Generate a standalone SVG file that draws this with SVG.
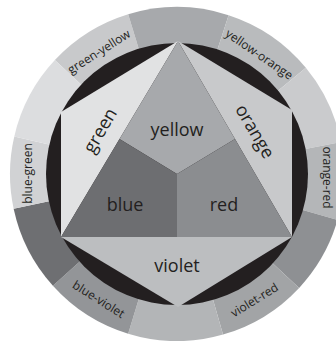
<svg xmlns="http://www.w3.org/2000/svg" width="336" height="341" viewBox="0 0 336 341">
<style>
.big{font-family:"Open Sans","Liberation Sans",sans-serif;font-size:18px;fill:#231f20;text-anchor:middle}
.sm{font-family:"Open Sans","Liberation Sans",sans-serif;font-size:12px;fill:#231f20;text-anchor:middle}
</style>
<rect width="336" height="341" fill="#ffffff"/>
<g id="ring">
<g id="seg-green-yellow"><path d="M177,174 L54.86,60.11 A167,167 0 0 1 128.17,14.30 Z" fill="#c8c9cb"/><text class="sm" transform="translate(99.1,51.7) rotate(-32.5)" dy="4">green-yellow</text></g>
<g id="seg-yellow"><path d="M177,174 L128.17,14.30 A167,167 0 0 1 228.61,15.17 Z" fill="#a7a9ac"/></g>
<g id="seg-yellow-orange"><path d="M177,174 L228.61,15.17 A167,167 0 0 1 305.86,67.77 Z" fill="#b9bbbd"/><text class="sm" transform="translate(259.1,54.5) rotate(34.5)" dy="4">yellow-orange</text></g>
<g id="seg-orange"><path d="M177,174 L305.86,67.77 A167,167 0 0 1 340.93,142.13 Z" fill="#cacbcd"/></g>
<g id="seg-orange-red"><path d="M177,174 L340.93,142.13 A167,167 0 0 1 337.53,220.03 Z" fill="#b4b6b8"/><text class="sm" transform="translate(327,177.5) rotate(90)" dy="4">orange-red</text></g>
<g id="seg-red"><path d="M177,174 L337.53,220.03 A167,167 0 0 1 299.14,287.89 Z" fill="#8e9093"/></g>
<g id="seg-violet-red"><path d="M177,174 L299.14,287.89 A167,167 0 0 1 223.03,334.53 Z" fill="#a2a4a6"/><text class="sm" transform="translate(254.6,300.1) rotate(-31.6)" dy="4">violet-red</text></g>
<g id="seg-violet"><path d="M177,174 L223.03,334.53 A167,167 0 0 1 128.17,333.70 Z" fill="#b3b5b7"/></g>
<g id="seg-blue-violet"><path d="M177,174 L128.17,333.70 A167,167 0 0 1 52.90,285.74 Z" fill="#939598"/><text class="sm" transform="translate(98.6,299.5) rotate(32)" dy="4">blue-violet</text></g>
<g id="seg-blue"><path d="M177,174 L52.90,285.74 A167,167 0 0 1 13.65,208.72 Z" fill="#6e6f72"/></g>
<g id="seg-blue-green"><path d="M177,174 L13.65,208.72 A167,167 0 0 1 14.28,136.43 Z" fill="#d1d2d4"/><text class="sm" transform="translate(27.5,173.5) rotate(-90)" dy="4">blue-green</text></g>
<g id="seg-green"><path d="M177,174 L14.28,136.43 A167,167 0 0 1 54.86,60.11 Z" fill="#dcdddf"/></g>
</g>
<circle id="black-ring" cx="177" cy="174" r="131" fill="#231f20"/>
<g id="hexagon">
<g id="green"><polygon points="178,41 61,112 61,237" fill="#e1e2e3"/><text class="big" transform="translate(105.5,133.5) rotate(-59.8)">green</text></g>
<g id="orange"><polygon points="178,41 292,110 292,237" fill="#c8c9cb"/><text class="big" transform="translate(249.7,134.5) rotate(59.8)">orange</text></g>
<g id="violet"><polygon points="61,237 178,307 292,237" fill="#bcbec0"/><text class="big" x="177" y="272">violet</text></g>
<g id="yellow"><polygon points="178,41 235,139 177,174 119.5,139" fill="#a7a9ac"/><text class="big" x="177" y="136">yellow</text></g>
<g id="blue"><polygon points="119.5,139 177,174 177,237 61,237" fill="#6d6e71"/><text class="big" x="125" y="211">blue</text></g>
<g id="red"><polygon points="177,174 235,139 292,237 177,237" fill="#8b8d90"/><text class="big" x="224" y="211">red</text></g>
</g>
</svg>
